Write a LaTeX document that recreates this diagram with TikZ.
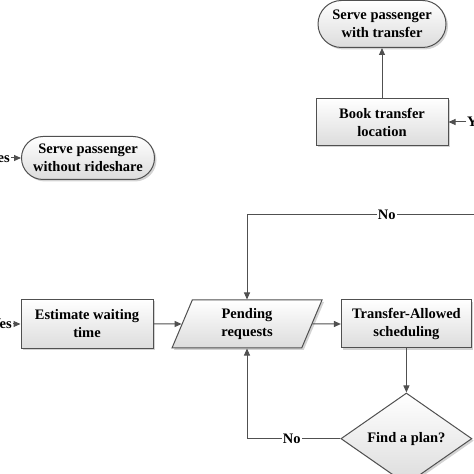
\documentclass[tikz,border=0pt]{standalone}
\usepackage{fontspec}
\setmainfont{Liberation Serif}
\usetikzlibrary{positioning}
\usetikzlibrary{shapes.geometric}
\usetikzlibrary{shapes.misc}
\usetikzlibrary{arrows.meta}
\usetikzlibrary{shadows}
\definecolor{edgegray}{RGB}{80, 80, 80}
\definecolor{shadetop}{RGB}{255, 255, 255}
\definecolor{shadebot}{RGB}{220, 220, 220}
\tikzstyle{procbox} = [
    draw=edgegray,
    line width=1pt,
    top color = shadetop,
    bottom color = shadebot,
    drop shadow={shadow xshift=2pt, shadow yshift=-2pt, opacity=0.35},
    minimum width=132pt,
    minimum height=47pt,
    inner sep=2pt,
    align=center,
    font=\fontsize{14.5}{18}\selectfont\bfseries
]
\tikzstyle{endbox} = [
	procbox,
	rounded rectangle
]
\tikzstyle{iobox} = [
	procbox,
	trapezium,
	trapezium left angle=60,
	trapezium right angle=120,
	trapezium stretches body,
	minimum width=150pt,
	minimum height=48pt
]
\tikzstyle{decbox} = [
	procbox,
	diamond,
	inner sep=0pt,
	minimum width=131pt,
	minimum height=78pt
]
\tikzstyle{flow} = [
	draw=edgegray,
	line width=1pt,
	-{Triangle[length=7pt, width=6pt]}
]
\tikzstyle{lbl} = [
	fill=white,
	inner sep=1pt,
	font=\fontsize{14.5}{18}\selectfont\bfseries
]

\begin{document}
\begin{tikzpicture}[x=1pt, y=1pt]
	\useasboundingbox (0,0) rectangle (474,474);
	
	% Transfer branch
	\node[procbox] (book) at (382,352) {Book transfer\\location};
	\node[endbox, above=50pt of book] (servetr) {Serve passenger\\with transfer};
	\node[lbl, anchor=west] (yesR) at (466,352) {Yes};
	
	% No rideshare
	\node[endbox, minimum width=137pt, minimum height=43pt] (servenr) at (88,316) {Serve passenger\\without rideshare};
	\node[lbl, anchor=east] (yesA) at (11,316) {Yes};
	
	% Main row
	\node[procbox, minimum height=49pt] (estim) at (87,150) {Estimate waiting\\time};
	\node[iobox] (pend) at (247,150) {Pending\\requests};
	\node[procbox, minimum width=130pt, minimum height=48pt, right=28.5pt of pend] (tasched) {Transfer-Allowed\\scheduling};
	\node[decbox, below=44pt of tasched] (plan) {Find a plan?};
	\node[lbl, anchor=east] (yesB) at (13,150) {Yes};
	\coordinate (noR) at (480,259);
	
	% Connectors
	\draw[flow] (book) -- (servetr);
	\draw[flow] (yesR) -- (book);
	\draw[flow] (yesA) -- (servenr);
	\draw[flow] (yesB) -- (estim);
	\draw[flow] (estim) -- (pend);
	\draw[flow] (pend) -- (tasched);
	\draw[flow] (tasched) -- (plan);
	\draw[flow] (plan.west) -| node[lbl, pos=0.26] {No} (pend.south);
	\draw[flow] (noR) -| node[lbl, pos=0.2] {No} (pend.north);
	
\end{tikzpicture}
\end{document}
